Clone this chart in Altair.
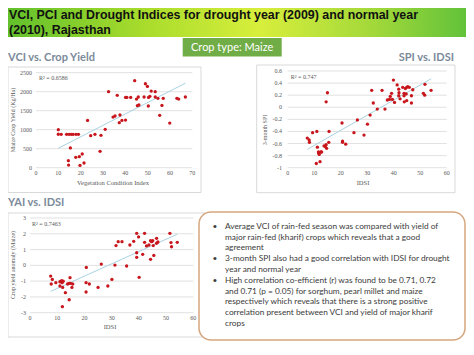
import altair as alt
import pandas as pd

# ---------------- data ----------------
vci = [10, 10, 11.3, 13.7, 14.8, 15.8, 16.6, 17.9, 19, 15.4, 23.1, 24.5, 26.4, 29.1, 31, 28.7,
       32.5, 34.5, 35.4, 36.4, 37.3, 37.6, 38.5, 40.1, 40.1, 40.7, 42.4, 44.2, 45, 45.8, 45.4,
       46.1, 48.4, 49, 49.9, 50.3, 50.4, 51, 51.6, 53.4, 53.4, 54.6, 55.4, 56.4, 57, 59.9, 63.1,
       63.9, 66.9, 14.5, 14.6, 17.8, 19.4, 20.7, 19.7, 21.5]
maize_yield = [1000, 880, 877, 877, 877, 877, 877, 877, 877, 520, 1245, 842, 877, 851, 1009, 430,
               2000, 1333, 1360, 1904, 1184, 1386, 1245, 1254, 1850, 1850, 1850, 2290, 1807, 1860,
               1632, 1650, 1860, 2210, 2140, 1623, 1850, 1877, 2017, 2000, 1860, 1825, 1377, 1640,
               1825, 1175, 1825, 1807, 1860, 184, 70, 272, 290, 360, 61, 123]

idsi_spi = [39.9, 41.3, 41.9, 42.0, 43.4, 43.9, 44.4, 44.9, 45.3, 43.9,
            31.7, 35.6, 32.3, 33.8, 36.7, 31.1, 30.1, 26.3, 20.5, 25.0,
            28.8, 20.7, 20.7, 21.9, 15.0, 14.5, 15.6, 15.5, 13.7, 14.2,
            14.7, 14.5, 11.0, 9.4, 7.4, 8.1, 8.2, 11.2, 11.6, 11.7,
            12.5, 12.8, 11.9, 10.8, 12.2,
            37.6, 38.4, 38.7, 39.2, 39.5, 40.3, 41.9, 42.4, 44.0, 44.7,
            44.9, 46.7, 46.7, 47.2, 45.9, 51.2, 51.7, 51.8, 54.1]
spi3 = [0.45, 0.37, 0.30, 0.24, 0.33, 0.23, 0.31, 0.33, 0.34, 0.19,
        0.28, 0.28, 0.07, -0.03, -0.03, -0.13, -0.28, -0.21, -0.26, -0.42,
        -0.46, -0.56, -0.58, -0.61, 0.24, 0.09, -0.40, -0.58, -0.64, -0.65,
        -0.68, -0.62, -0.40, -0.42, -0.51, -0.54, -0.58, -0.66, -0.74, -0.76,
        -0.74, -0.74, -0.78, -0.93, -0.90,
        0.12, 0.13, 0.18, 0.23, 0.13, 0.08, 0.19, 0.14, 0.09, 0.22,
        0.11, 0.07, 0.19, 0.29, 0.33, 0.23, 0.20, 0.38, 0.28]

idsi_yai = [39.2, 42.1, 51.4, 39.9, 32.4, 33.8, 31.6, 38.1, 36.7, 42.1,
            42.8, 43.7, 44.3, 44.7, 45.1, 45.3, 46.5, 46.5, 47.0, 51.8,
            52.0, 54.1, 39.2, 39.2, 41.4, 45.5, 44.3, 31.2, 26.2, 35.5,
            20.7, 40.1, 30.1, 28.6, 25.0, 20.6, 21.8, 20.6, 7.6, 8.2,
            7.8, 9.5, 11.0, 11.6, 11.8, 12.2, 11.0, 12.0, 13.0, 13.8,
            14.4, 14.9, 14.7, 15.4, 15.7, 14.4, 11.9]
yai = [2.03, 2.03, 2.03, 1.80, 1.50, 1.50, 1.25, 1.52, 1.29, 1.46,
       1.23, 1.29, 1.56, 1.50, 1.56, 1.25, 1.71, 1.40, 1.48, 1.44,
       1.18, 1.46, 0.80, 0.51, 0.70, 0.63, 0.38, 0.02, 0.08, -0.04,
       -0.13, -0.76, -0.89, -1.31, -1.40, -1.10, -1.18, -1.69, -0.68, -0.89,
       -1.18, -1.10, -1.04, -0.97, -1.10, -1.0, -1.31, -1.40, -1.73, -1.18,
       -1.14, -1.14, -0.78, -1.40, -1.18, -2.18, -2.62]

p1_xticks = [0, 10, 20, 30, 40, 50, 60, 70]
p1_yticks = [0, 500, 1000, 1500, 2000, 2500]
p2_xticks = [0, 10, 20, 30, 40, 50, 60]
p2_yticks = [0.6, 0.4, 0.2, 0, -0.2, -0.4, -0.6, -0.8, -1]
p2_ylabels = ["0.6", "0.4", "0.2", "0", "-0.2", "-0.4", "-0.6", "-0.8", "-1"]
p3_xticks = [0, 10, 20, 30, 40, 50, 60]
p3_yticks = [3, 2, 1, 0, -1, -2, -3]

title_lines = ["VCI, PCI and Drought Indices for drought year (2009) and normal year",
               "(2010), Rajasthan"]
bullet_lines = [
    "Average VCI of rain-fed season was compared with yield of",
    "major rain-fed (kharif) crops which reveals that a good",
    "agreement",
    "3-month SPI also had a good correlation with IDSI for drought",
    "year and normal year",
    "High correlation co-efficient (r) was found to be 0.71, 0.72",
    "and 0.71 (p = 0.05) for sorghum, pearl millet and maize",
    "respectively which reveals that there is a strong positive",
    "correlation present between VCI and yield of major kharif",
    "crops",
]
bullet_flags = [1, 0, 0, 1, 0, 1, 0, 0, 0, 0]

# ---------------- helpers ----------------
one = pd.DataFrame({"a": [0]})
SERIF = "Liberation Serif"
SANS = "Lato"
GRAY = "#595959"


def box(x, x2, y, y2, **kw):
    return alt.Chart(one).mark_rect(**kw).encode(
        x=alt.value(x), x2=alt.value(x2), y=alt.value(y), y2=alt.value(y2))


def label(txt, x, y, **kw):
    return alt.Chart(one).mark_text(text=txt, **kw).encode(x=alt.value(x), y=alt.value(y))


def panel(xs, ys, xdom, xr, ydom, yr, xticks, yticks, ylabs, ylab_x, xlab_y,
          xtitle, xtitle_pos, ytitle, ytitle_pos, r2, r2_pos):
    xsc = alt.Scale(domain=xdom, range=xr, nice=False, zero=False)
    ysc = alt.Scale(domain=ydom, range=yr, nice=False, zero=False)
    pts = pd.DataFrame({"x": xs, "y": ys})
    yt = pd.DataFrame({"v": yticks, "lab": ylabs})
    xt = pd.DataFrame({"v": xticks, "lab": [str(t) for t in xticks]})
    grid = alt.Chart(yt).mark_rule(color="#d9d9d9", strokeWidth=0.8).encode(
        y=alt.Y("v:Q", scale=ysc, axis=None), x=alt.value(xr[0]), x2=alt.value(xr[1]))
    ylab = alt.Chart(yt).mark_text(align="right", baseline="middle", font=SERIF,
                                   fontSize=6, color=GRAY).encode(
        y=alt.Y("v:Q", scale=ysc, axis=None), x=alt.value(ylab_x), text="lab:N")
    xlab = alt.Chart(xt).mark_text(align="center", baseline="middle", font=SERIF,
                                   fontSize=6, color=GRAY).encode(
        x=alt.X("v:Q", scale=xsc, axis=None), y=alt.value(xlab_y), text="lab:N")
    trend = alt.Chart(pts).transform_regression("x", "y").mark_line(
        color="#a9d3e4", strokeWidth=1).encode(
        x=alt.X("x:Q", scale=xsc, axis=None), y=alt.Y("y:Q", scale=ysc, axis=None))
    dots = alt.Chart(pts).mark_circle(size=11, color="#c8161d", opacity=1).encode(
        x=alt.X("x:Q", scale=xsc, axis=None), y=alt.Y("y:Q", scale=ysc, axis=None))
    xt_l = label(xtitle, xtitle_pos[0], xtitle_pos[1], font=SERIF, fontSize=6.5,
                 color=GRAY, align="center", baseline="middle")
    yt_l = label(ytitle, ytitle_pos[0], ytitle_pos[1], font=SERIF, fontSize=6,
                 color=GRAY, align="center", baseline="middle", angle=270)
    r2_l = label(r2, r2_pos[0], r2_pos[1], font=SERIF, fontSize=6, color=GRAY,
                 align="left", baseline="middle")
    return alt.layer(grid, ylab, xlab, trend, dots, xt_l, yt_l, r2_l)


# ---------------- layers ----------------
banner = box(0, 458, 0, 29, color=alt.Gradient(
    gradient="linear", x1=0, x2=1, y1=0, y2=0,
    stops=[alt.GradientStop(offset=0, color="#62c02c"),
           alt.GradientStop(offset=0.3, color="#a9dc2c"),
           alt.GradientStop(offset=0.55, color="#d8ee3c"),
           alt.GradientStop(offset=0.8, color="#a2d83a"),
           alt.GradientStop(offset=1, color="#62c23a")]))
t1 = label(title_lines[0], 1, 11, font="Liberation Sans", fontWeight="bold", fontSize=12.4,
           color="#111111", align="left", baseline="alphabetic")
t2 = label(title_lines[1], 1, 25.5, font="Liberation Sans", fontWeight="bold", fontSize=12.4,
           color="#111111", align="left", baseline="alphabetic")

crop_box = box(174.7, 273.7, 30, 48.5, color="#70ad47")
crop_txt = label("Crop type: Maize", 224.2, 39.5, font=SANS, fontSize=11, color="white",
                 align="center", baseline="middle")

sec_kw = dict(font=SANS, fontWeight="bold", fontSize=11, color="#7b8a9a", baseline="middle")
s1 = label("VCI vs. Crop Yield", 0, 50, align="left", **sec_kw)
s2 = label("SPI vs. IDSI", 446, 50, align="right", **sec_kw)
s3 = label("YAI vs. IDSI", 0, 195, align="left", **sec_kw)

area_kw = dict(fill="white", stroke="#d9d9d9", strokeWidth=1)
a1 = box(0, 193, 59, 184.5, **area_kw)
a2 = box(248.7, 447, 57, 184.7, **area_kw)
a3 = box(0, 197, 205, 329, **area_kw)

p1 = panel(vci, maize_yield, [0, 70], [28, 184.3], [0, 2500], [159.7, 64.7],
           p1_xticks, p1_yticks, [str(t) for t in p1_yticks], 24, 165,
           "Vegetation Condition Index", (105, 175), "Maize Crop Yield (Kg/Ha)", (5, 112),
           "R² = 0.6586", (31, 70))
p2 = panel(idsi_spi, spi3, [0, 60], [279.7, 438.7], [-1, 0.6], [159.7, 63],
           p2_xticks, p2_yticks, p2_ylabels, 274, 165,
           "IDSI", (355, 175), "3-month SPI", (257, 122),
           "R² = 0.747", (282.7, 68.7))
p3 = panel(idsi_yai, yai, [0, 60], [22, 185.3], [-3, 3], [304.7, 210],
           p3_xticks, p3_yticks, [str(t) for t in p3_yticks], 18, 310,
           "IDSI", (102, 319), "Crop yield anomaly (Maize)", (5, 257),
           "R² = 0.7463", (24, 216))

tbox = box(191, 457, 204, 332, fill="white", stroke="#d6a77c", strokeWidth=1.5,
           cornerRadius=12)
bl = pd.DataFrame({"i": list(range(len(bullet_lines))), "t": bullet_lines, "b": bullet_flags})
lsc = alt.Scale(domain=[0, 9], range=[218.7, 316], nice=False, zero=False)
btext = alt.Chart(bl).mark_text(font=SANS, fontSize=8.3, color="#3a3a3a", align="left",
                                baseline="middle").encode(
    y=alt.Y("i:Q", scale=lsc, axis=None), x=alt.value(217), text="t:N")
bdots = alt.Chart(bl).transform_filter("datum.b == 1").mark_text(
    text="•", font=SANS, fontSize=8.3, color="#3a3a3a", align="center",
    baseline="middle").encode(y=alt.Y("i:Q", scale=lsc, axis=None), x=alt.value(207))
bullets = alt.layer(btext, bdots)

chart = alt.layer(
    banner, t1, t2, crop_box, crop_txt, s1, s2, s3, a1, a2, a3,
    p1, p2, p3, tbox, bullets
).resolve_scale(x="independent", y="independent").properties(
    width=458, height=339, autosize=alt.AutoSizeParams(type="none"), padding=0,
    background="white"
).configure_view(stroke=None)

chart.save("out.html", embed_options={"renderer": "svg", "actions": False})
